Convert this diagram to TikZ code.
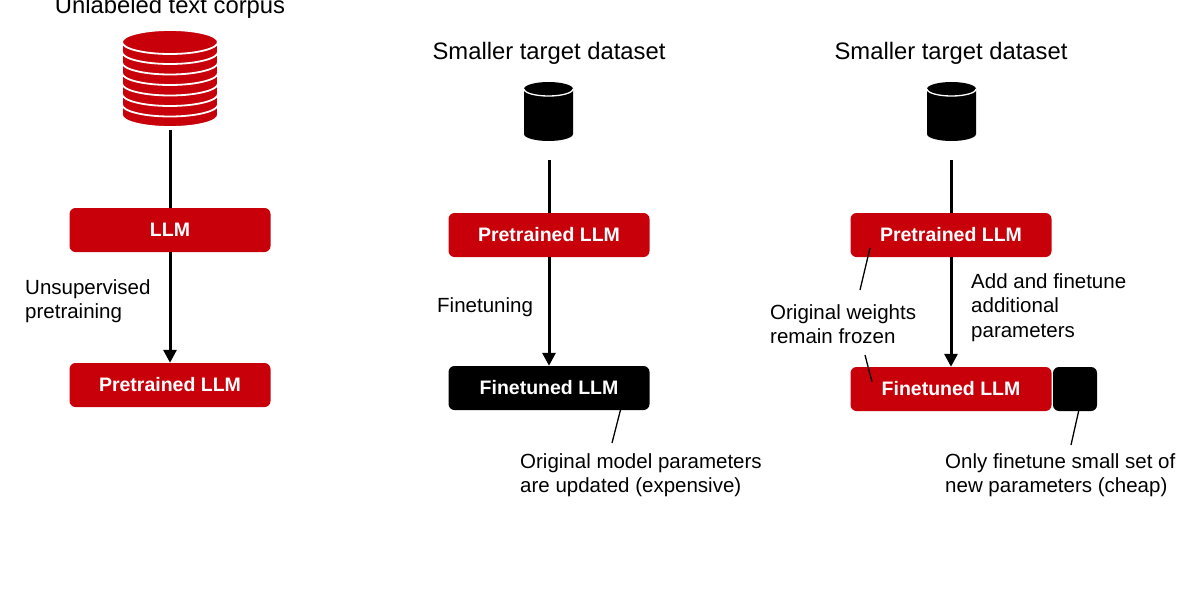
\documentclass[tikz,border=0pt]{standalone}
\usepackage{fontspec}
\setmainfont{Liberation Sans}
\usetikzlibrary{arrows.meta}
\definecolor{myred}{HTML}{C8000A}
\begin{document}
\begin{tikzpicture}[x=1pt,y=-1pt,
  box/.style={rounded corners=6pt,minimum width=201pt,minimum height=44pt,inner sep=0pt,text=white,font=\fontsize{19.5}{22}\selectfont\bfseries},
  lbl/.style={font=\fontsize{20.5}{24.5}\selectfont,align=left,anchor=north west,inner sep=0pt},
  ttl/.style={font=\fontsize{23.8}{28}\selectfont,inner sep=0pt},
  ln/.style={line width=3pt},
  arr/.style={line width=3pt,-{Triangle[length=13pt,width=13pt]}},
  ptr/.style={line width=1.3pt}]
\useasboundingbox (0,0) rectangle (1200,600);
% left column
\node[ttl] (t1) at (170,7) {Unlabeled text corpus};
\foreach \i in {6,5,...,0}{
  \fill[myred,draw=white,line width=1.8pt] (122,{42+\i*10.5}) -- (122,{52+\i*10.5}) arc[start angle=180,end angle=0,x radius=48,y radius=12] -- (218,{42+\i*10.5}) arc[start angle=0,end angle=-180,x radius=48,y radius=12] -- cycle;
}
\fill[myred,draw=white,line width=1.8pt] (170,42) ellipse[x radius=48,y radius=12];
\coordinate (db1) at (170,130);
\node[box,fill=myred] (llm) at (170,230) {LLM};
\node[box,fill=myred] (pre1) at (170,385) {Pretrained LLM};
\draw[ln] (db1) -- (llm.north);
\draw[arr] (llm.south) -- (pre1.north);
\node[lbl] (l1) at (25,279) {Unsupervised\\pretraining};
% middle column
\node[ttl] (t2) at (549,53) {Smaller target dataset};
\fill[black] (524,89) -- (524,134) arc[start angle=180,end angle=0,x radius=24.5,y radius=7] -- (573,89) arc[start angle=0,end angle=-180,x radius=24.5,y radius=7] -- cycle;
\draw[white,line width=1.3pt] (524,89) arc[start angle=180,end angle=0,x radius=24.5,y radius=7];
\coordinate (db2) at (549,160);
\node[box,fill=myred] (pre2) at (549,235) {Pretrained LLM};
\node[box,fill=black] (fin2) at (549,388) {Finetuned LLM};
\draw[ln] (db2) -- (pre2.north);
\draw[arr] (pre2.south) -- (fin2.north);
\node[lbl] (l2) at (437,297) {Finetuning};
\coordinate (p2a) at (622,404);
\coordinate (p2b) at (612,443);
\draw[ptr] (p2a) -- (p2b);
\node[lbl] (l3) at (520,453) {Original model parameters\\are updated (expensive)};
% right column
\node[ttl] (t3) at (951,53) {Smaller target dataset};
\fill[black] (927,89) -- (927,134) arc[start angle=180,end angle=0,x radius=24.5,y radius=7] -- (976,89) arc[start angle=0,end angle=-180,x radius=24.5,y radius=7] -- cycle;
\draw[white,line width=1.3pt] (927,89) arc[start angle=180,end angle=0,x radius=24.5,y radius=7];
\coordinate (db3) at (951,160);
\node[box,fill=myred] (pre3) at (951,235) {Pretrained LLM};
\node[box,fill=myred] (fin3) at (951,389) {Finetuned LLM};
\node[rounded corners=6pt,fill=black,minimum width=44pt,minimum height=44pt,inner sep=0pt] (sq) at (1075,389) {};
\draw[ln] (db3) -- (pre3.north);
\draw[arr] (pre3.south) -- (fin3.north);
\node[lbl] (l4) at (971,273) {Add and finetune\\additional\\parameters};
\node[lbl] (l5) at (770,304) {Original weights\\remain frozen};
\coordinate (p3a) at (870,248); \coordinate (p3b) at (860,290);
\coordinate (p4a) at (865,355); \coordinate (p4b) at (872,382);
\draw[ptr] (p3a) -- (p3b);
\draw[ptr] (p4a) -- (p4b);
\coordinate (p5a) at (1080,405); \coordinate (p5b) at (1071,445);
\draw[ptr] (p5a) -- (p5b);
\node[lbl] (l6) at (945,453) {Only finetune small set of\\new parameters (cheap)};
\end{tikzpicture}
\end{document}
